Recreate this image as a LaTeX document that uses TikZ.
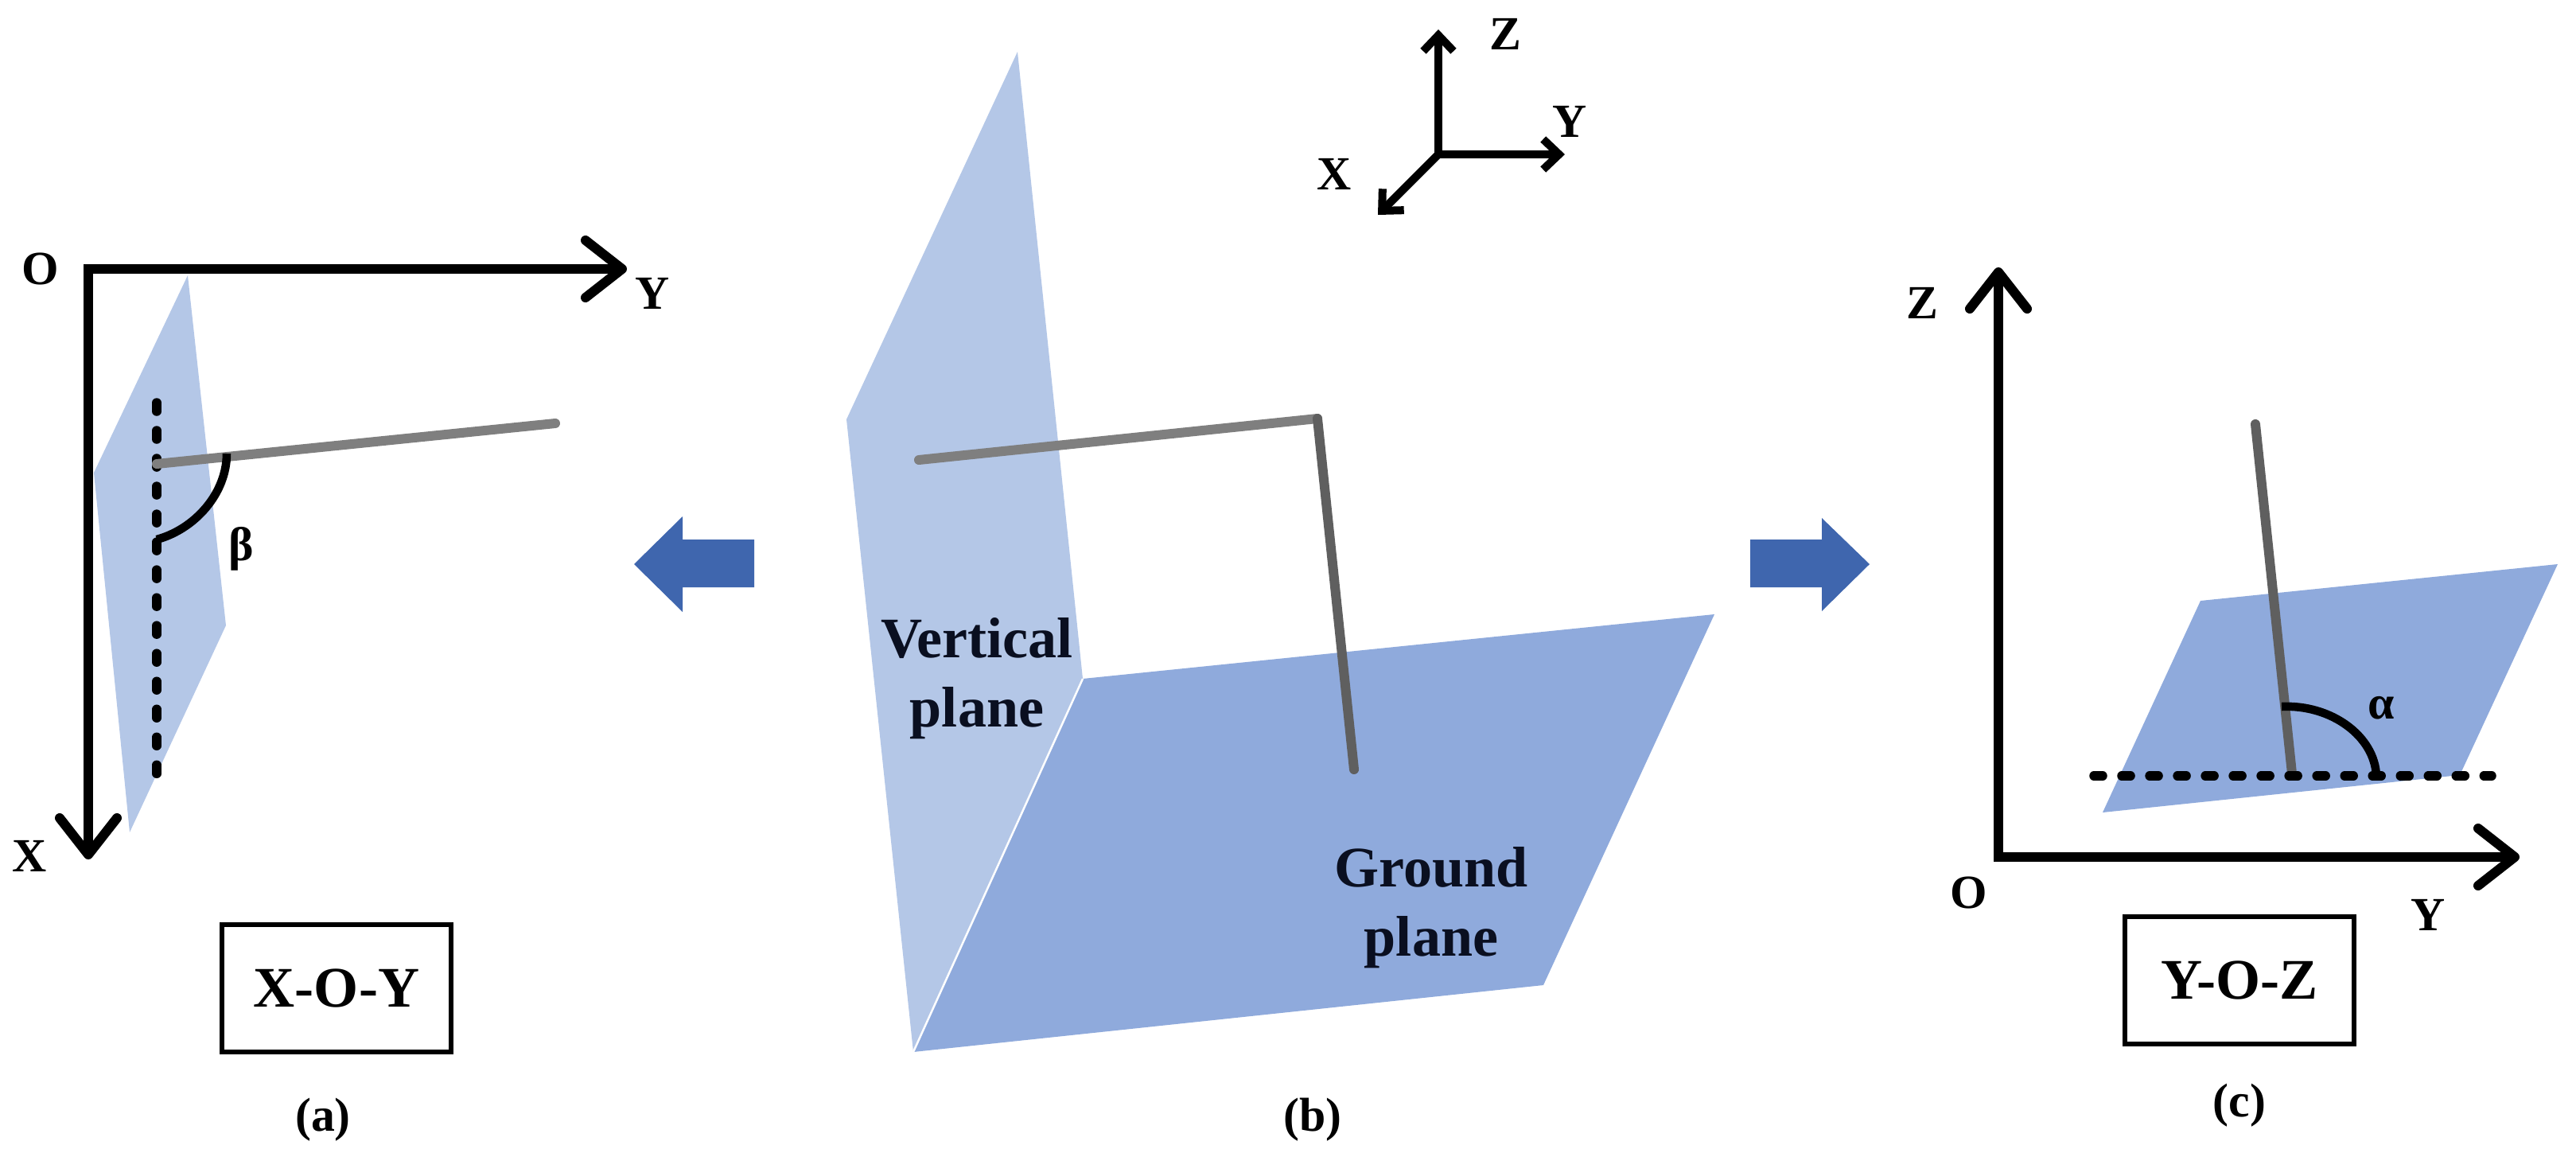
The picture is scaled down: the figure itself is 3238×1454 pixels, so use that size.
\documentclass[tikz,border=0pt]{standalone}
\usepackage{fontspec}
\setmainfont{Liberation Serif}
\usetikzlibrary{arrows.meta}
\definecolor{vertblue}{HTML}{B4C7E7}
\definecolor{groundblue}{HTML}{8FAADC}
\definecolor{arrowblue}{HTML}{3F66AE}
\definecolor{rodlight}{HTML}{7F7F7F}
\definecolor{roddark}{HTML}{5F5F5F}
\definecolor{labelink}{HTML}{0A0F20}
\tikzstyle{axis line}  = [line width=0.12cm,>={Straight Barb[length=0.46cm,width=0.72cm,round]},<->]
\tikzstyle{small axis} = [line width=0.1cm,>={Straight Barb[length=0.2cm,width=0.38cm]},->]
\tikzstyle{rod}        = [line width=0.12cm,line cap=round]
\tikzstyle{angle arc}  = [line width=0.105cm]
\tikzstyle{dash line}  = [line width=0.115cm,line cap=round,dash pattern=on 0.11cm off 0.24cm]
\tikzstyle{axis label} = [inner sep=0,font=\fontsize{17}{20}\selectfont\bfseries]
\tikzstyle{plane label}= [inner sep=0,align=center,text=labelink,font=\fontsize{20.5}{24.7}\selectfont\bfseries]
\tikzstyle{view box}   = [draw,line width=0.06cm,inner sep=0,minimum width=2.87cm,minimum height=1.6cm,font=\fontsize{20.5}{24}\selectfont\bfseries]

\begin{document}
\begin{tikzpicture}[x=0.01cm,y=-0.01cm]
\useasboundingbox (0,0) rectangle (3238,1454);

    % panel a
    \fill[vertblue] (236,346) -- (118,594) -- (163,1046) -- (284,786) -- cycle;
    \coordinate (oa) at (111,338);
    \coordinate (ya) at (788,338);
    \coordinate (xa) at (111,1080);
    \coordinate (dashtopa) at (197,506);
    \coordinate (dashenda) at (197,977);
    \coordinate (rodfoota) at (197,583);
    \coordinate (rodenda) at (698,532);
    \draw[dash line] (dashtopa) -- (dashenda);
    \draw[rod,rodlight] (rodfoota) -- (rodenda);
    \draw[axis line] (ya) -- (oa) -- (xa);
    \draw[angle arc] (285,570) .. controls (285,620) and (245,665) .. (197,678);
    \node(Oa)[axis label] at (51,338){O};
    \node(Ya)[axis label] at (820,369){Y};
    \node(Xa)[axis label] at (37,1076){X};
    \node(beta)[axis label] at (303,690){β};
    \node(boxa)[view box] at (423,1242){X-O-Y};
    \node(capa)[axis label] at (406,1407){(a)};

    % arrows between panels
    \fill[arrowblue] (797,709) -- (858,649) -- (858,678) -- (948,678) -- (948,738) -- (858,738) -- (858,769) -- cycle;
    \fill[arrowblue] (2350,709) -- (2290,651) -- (2290,678) -- (2200,678) -- (2200,738) -- (2290,738) -- (2290,768) -- cycle;

    % panel b
    \fill[vertblue] (1279,65) -- (1064,527) -- (1148,1322) -- (1361,853) -- cycle;
    \fill[groundblue] (1361,853) -- (2155,772) -- (1940,1238) -- (1148,1322) -- cycle;
    \draw[white,line width=0.025cm] (1361,853) -- (1148,1322);
    \coordinate (rodstart) at (1155,578);
    \coordinate (rodknee) at (1656,526);
    \coordinate (rodfoot) at (1702,967);
    \draw[rod,rodlight] (rodstart) -- (rodknee);
    \draw[rod,roddark] (rodknee) -- (rodfoot);
    \node(vert)[plane label] at (1228,853){Vertical\\plane};
    \node(ground)[plane label] at (1799,1141){Ground\\plane};
    \node(capb)[axis label] at (1650,1407){(b)};

    % small axes
    \coordinate (os) at (1808,194);
    \coordinate (zs) at (1808,37);
    \coordinate (ys) at (1967,194);
    \coordinate (xs) at (1732,270);
    \draw[small axis] (os) -- (zs);
    \draw[small axis] (os) -- (ys);
    \draw[small axis] (os) -- (xs);
    \node(Zs)[axis label] at (1892,43){Z};
    \node(Ys)[axis label] at (1973,153){Y};
    \node(Xs)[axis label] at (1677,219){X};

    % panel c
    \fill[groundblue] (2766,755) -- (3215,709) -- (3092,974) -- (2643,1021) -- cycle;
    \coordinate (oc) at (2512,1077);
    \coordinate (zc) at (2512,336);
    \coordinate (yc) at (3167,1077);
    \coordinate (dashstartc) at (2632,975);
    \coordinate (dashendc) at (3132,975);
    \coordinate (rodtopc) at (2835,533);
    \coordinate (rodfootc) at (2881,972);
    \draw[rod,roddark] (rodtopc) -- (rodfootc);
    \draw[dash line] (dashstartc) -- (dashendc);
    \draw[axis line] (zc) -- (oc) -- (yc);
    \draw[angle arc] (2868,888) .. controls (2930,885) and (2985,925) .. (2987,975);
    \node(alpha)[axis label] at (2993,890){α};
    \node(Zc)[axis label] at (2416,381){Z};
    \node(Oc)[axis label] at (2475,1122){O};
    \node(Yc)[axis label] at (3052,1150){Y};
    \node(boxc)[view box] at (2815,1232){Y-O-Z};
    \node(capc)[axis label] at (2815,1389){(c)};

\end{tikzpicture}
\end{document}
